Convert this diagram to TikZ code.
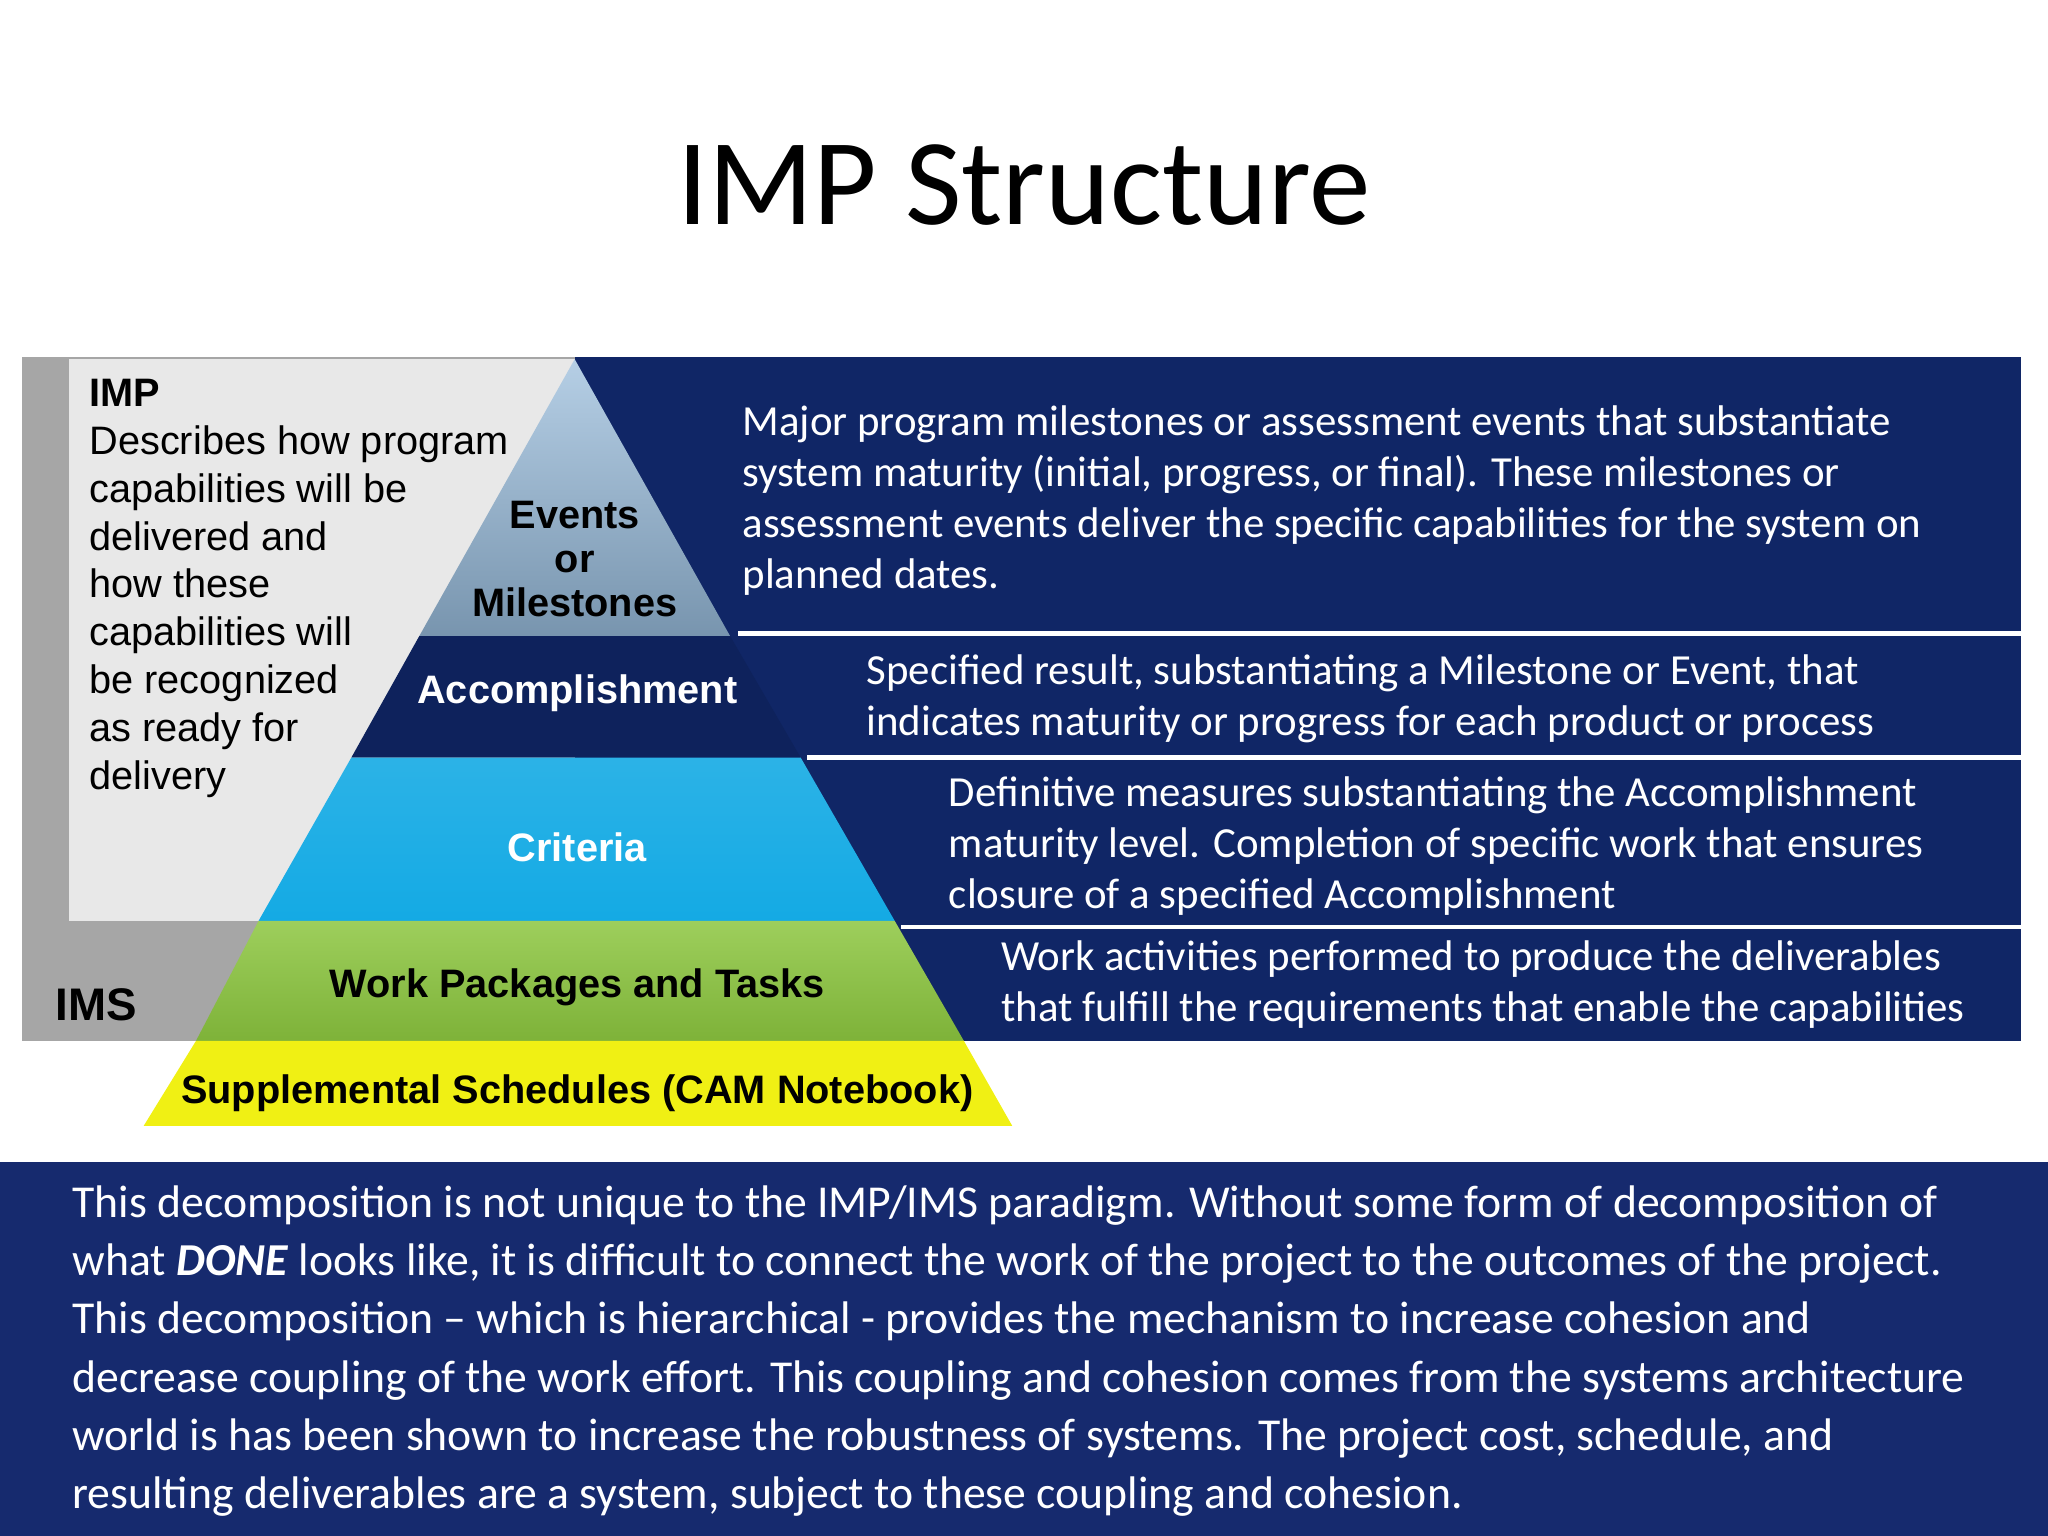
\documentclass[tikz,border=0pt]{standalone}
\usepackage{fontspec}
\setmainfont{Carlito}
\newfontfamily\arialfont{Liberation Sans}
\definecolor{IMPnavy}{RGB}{16,38,102}
\definecolor{IMPband}{RGB}{22,42,110}
\definecolor{IMPgray}{RGB}{166,166,166}
\definecolor{IMPlight}{RGB}{232,232,232}
\definecolor{IMPsky}{RGB}{150,186,218}
\definecolor{IMPcyan}{RGB}{20,170,228}
\definecolor{IMPgreen}{RGB}{140,198,63}
\definecolor{IMPyellow}{RGB}{240,240,20}
\tikzset{
  IMPdesc/.style={anchor=north west, align=left, text=white, inner sep=0pt,
    font=\fontsize{12.2}{14.5}\selectfont},
  IMPlayer/.style={font=\arialfont\bfseries\fontsize{11.3}{12.6}\selectfont, align=center},
  IMPsep/.style={draw=white, line width=1.2pt}
}
\begin{document}
\begin{tikzpicture}[x=0.01306cm, y=-0.01306cm]
                \path [use as bounding box] (0,0) rectangle (1568,1176);
                % title
                \node (title) at (784,142) {\fontsize{35}{40}\selectfont IMP Structure};
                % IMS / IMP panels
                \fill [IMPgray] (17,273) rectangle (440,797);
                \fill [IMPlight] (53,275) rectangle (440,705);
                \node [anchor=north west, align=left, inner sep=0pt,
                       font=\arialfont\fontsize{11.3}{13.6}\selectfont] (impnote) at (68,290)
                    {\textbf{IMP}\\Describes how program\\capabilities will be\\delivered and\\how these\\capabilities will\\be recognized\\as ready for\\delivery};
                \node [anchor=west, font=\arialfont\bfseries\fontsize{13}{14}\selectfont] (ims) at (33,769) {IMS};
                % right band
                \fill [IMPnavy] (440,273) rectangle (1547,797);
                \draw [IMPsep] (565,485) -- (1547,485);
                \draw [IMPsep] (618,580) -- (1547,580);
                \draw [IMPsep] (690,710) -- (1547,710);
                % pyramid layers
                \shade [top color=IMPsky!70!white, bottom color=IMPsky!80!black]
                    (440,275) -- (559,487) -- (321,487) -- cycle;
                \fill [IMPnavy!90!black] (321,487) -- (559,487) -- (613,580) -- (269,580) -- cycle;
                \shade [top color=IMPcyan!90!white, bottom color=IMPcyan]
                    (269,580) -- (613,580) -- (685,705) -- (198,705) -- cycle;
                \shade [top color=IMPgreen!85!white, bottom color=IMPgreen!90!black]
                    (198,705) -- (685,705) -- (738,797) -- (150,797) -- cycle;
                \fill [IMPyellow] (150,797) -- (738,797) -- (775,862) -- (110,862) -- cycle;
                \node [IMPlayer] (events) at (440,428) {Events\\or\\Milestones};
                \node [IMPlayer, text=white] (accomp) at (442,531) {Accomplishment};
                \node [IMPlayer, text=white] (criteria) at (442,649) {Criteria};
                \node [IMPlayer] (workpk) at (442,756) {Work Packages and Tasks};
                \node [IMPlayer] (supp) at (442,837) {Supplemental Schedules (CAM Notebook)};
                % descriptions
                \node [IMPdesc] (descevents) at (568,310)
                    {Major program milestones or assessment events that substantiate\\system maturity (initial, progress, or final). These milestones or\\assessment events deliver the specific capabilities for the system on\\planned dates.};
                \node [IMPdesc] (descaccomp) at (663,501)
                    {Specified result, substantiating a Milestone or Event, that\\indicates maturity or progress for each product or process};
                \node [IMPdesc] (desccrit) at (726,594)
                    {Definitive measures substantiating the Accomplishment\\maturity level. Completion of specific work that ensures\\closure of a specified Accomplishment};
                \node [IMPdesc] (descwork) at (766,720)
                    {Work activities performed to produce the deliverables\\that fulfill the requirements that enable the capabilities};
                % bottom note
                \fill [IMPband] (0,890) rectangle (1568,1176);
                \node [anchor=north west, align=left, text=white, inner sep=0pt,
                       font=\fontsize{13}{16.6}\selectfont] (note) at (55,907)
                    {This decomposition is not unique to the IMP/IMS paradigm. Without some form of decomposition of\\what \textbf{\textit{DONE}} looks like, it is difficult to connect the work of the project to the outcomes of the project.\\This decomposition -- which is hierarchical - provides the mechanism to increase cohesion and\\decrease coupling of the work effort. This coupling and cohesion comes from the systems architecture\\world is has been shown to increase the robustness of systems. The project cost, schedule, and\\resulting deliverables are a system, subject to these coupling and cohesion.};
            \end{tikzpicture}
\end{document}
